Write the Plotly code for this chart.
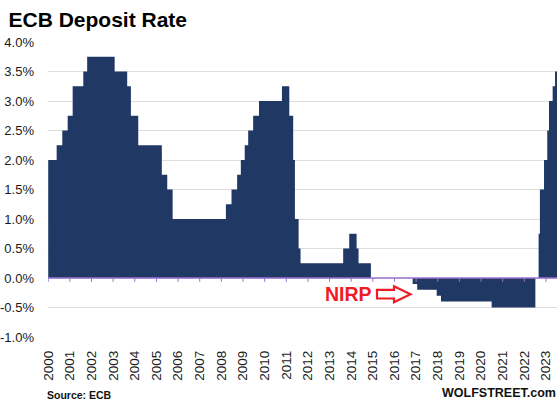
import plotly.graph_objects as go

# ---------------- data ----------------
# start position of each step on the axis (year units) and deposit rate in %
step_x = [2000.00, 2000.39, 2000.65, 2000.90, 2001.13, 2001.62, 2001.80,
          2003.07, 2003.65, 2003.82, 2004.16, 2005.25, 2005.50, 2005.75,
          2008.21, 2008.47, 2008.73, 2008.90, 2009.08, 2009.24, 2009.47,
          2009.74, 2010.80, 2011.14, 2011.32, 2011.40, 2011.57, 2011.66,
          2013.63, 2013.91, 2014.25, 2014.34, 2014.91, 2016.84, 2017.05,
          2017.95, 2018.15, 2020.49, 2022.51, 2022.66, 2022.72, 2022.91,
          2023.06, 2023.14, 2023.31, 2023.42]
rate = [2.00, 2.25, 2.50, 2.75, 3.25, 3.50, 3.75,
        3.50, 3.25, 2.75, 2.25, 1.75, 1.50, 1.00,
        1.25, 1.50, 1.75, 2.00, 2.25, 2.50, 2.75,
        3.00, 3.25, 2.75, 2.00, 1.00, 0.50, 0.25,
        0.50, 0.75, 0.50, 0.25, 0.00, -0.10, -0.20,
        -0.30, -0.40, -0.50, 0.00, 0.75, 1.50, 2.00,
        2.50, 3.00, 3.25, 3.50]
end_x = 2023.51

years = list(range(2000, 2024))
year_labels = [str(y) for y in years]
y_ticks = [-1.0, -0.5, 0.0, 0.5, 1.0, 1.5, 2.0, 2.5, 3.0, 3.5, 4.0]
y_tick_labels = [f"{v:.1f}%" for v in y_ticks]

# ---------------- layout geometry ----------------
W, H = 560, 406
ML, MR, MT, MB = 48, 3, 42.3, 68.7
PW, PH = W - ML - MR, H - MT - MB


def px(xp):
    return (xp - ML) / PW


def py(yp):
    return (H - MB - yp) / PH


NAVY = "#203864"
PURPLE = "#9B72CF"
RED = "#EE1C25"
FONT = "Liberation Sans"

fig = go.Figure()
fig.add_trace(go.Scatter(
    x=step_x + [end_x], y=rate + [rate[-1]],
    mode="lines", line=dict(width=0, shape="hv", color=NAVY),
    fill="tozeroy", fillcolor=NAVY, hoverinfo="skip", showlegend=False,
))

shapes = []
# zero axis line
shapes.append(dict(type="line", xref="paper", yref="y", x0=0, x1=1, y0=0, y1=0,
                   line=dict(color=PURPLE, width=1.5), layer="above"))
# tick marks hanging from zero axis
for yv in years:
    shapes.append(dict(type="line", xref="x", yref="y", x0=yv, x1=yv, y0=0, y1=-0.065,
                       line=dict(color=PURPLE, width=1), layer="above"))

# hollow arrow next to NIRP
cy = 294.5
xs, xh, xt = 377.0, 394.0, 410.5
sh, hh = 4.3, 8.0
pts = [(xs, cy - sh), (xh, cy - sh), (xh, cy - hh), (xt, cy), (xh, cy + hh),
       (xh, cy + sh), (xs, cy + sh)]
path = "M " + " L ".join(f"{px(a):.5f},{py(b):.5f}" for a, b in pts) + " Z"
shapes.append(dict(type="path", xref="paper", yref="paper", path=path,
                   line=dict(color=RED, width=2.2), fillcolor="white", layer="above"))

annotations = [
    dict(text="<b>NIRP</b>", xref="paper", yref="paper", x=px(348.5), y=py(294.5),
         xanchor="center", yanchor="middle", showarrow=False,
         font=dict(family=FONT, size=19.5, color=RED)),
    dict(text="<b>Source: ECB</b>", xref="paper", yref="paper", x=px(45), y=py(395.5),
         xanchor="left", yanchor="middle", showarrow=False,
         font=dict(family=FONT, size=10.5, color="#111111")),
    dict(text="<b>WOLFSTREET.com</b>", xref="paper", yref="paper", x=px(557.5), y=py(393.5),
         xanchor="right", yanchor="middle", showarrow=False,
         font=dict(family=FONT, size=12.5, color="#111111")),
]

fig.update_layout(
    width=W, height=H,
    margin=dict(l=ML, r=MR, t=MT, b=MB, pad=0, autoexpand=False),
    paper_bgcolor="white", plot_bgcolor="white",
    title=dict(text="<b>ECB Deposit Rate</b>", xref="container", yref="container",
               x=8.5 / W, y=1 - 19.5 / H, xanchor="left", yanchor="middle",
               font=dict(family=FONT, size=21, color="#000000")),
    xaxis=dict(range=[1999.99, end_x], tickmode="array", tickvals=years, ticktext=year_labels,
               tickangle=-90, showgrid=False, zeroline=False, showline=False, ticks="",
               ticklabelstandoff=10, automargin=False,
               tickfont=dict(family=FONT, size=13.5, color="#1a1a1a")),
    yaxis=dict(range=[-1.0, 4.0], tickmode="array", tickvals=y_ticks, ticktext=y_tick_labels,
               showgrid=True, gridcolor="#DDDDDD", gridwidth=1, zeroline=False, showline=False,
               ticks="", ticklabelstandoff=13, automargin=False,
               tickfont=dict(family=FONT, size=13, color="#1a1a1a")),
    shapes=shapes, annotations=annotations,
    showlegend=False,
)

fig.write_html("out.html")
